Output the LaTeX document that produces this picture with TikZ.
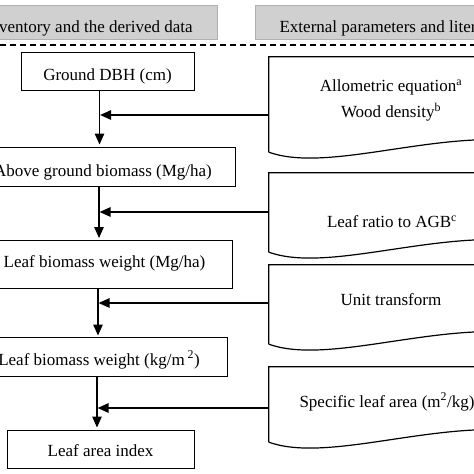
\documentclass[tikz,border=0pt]{standalone}
\usepackage{fontspec}
\setmainfont{Liberation Serif}
\usetikzlibrary{arrows.meta,calc}
\definecolor{hdrfill}{HTML}{D0D0D0}
\definecolor{hdrline}{HTML}{B0B0B0}
\begin{document}
\begin{tikzpicture}[x=1pt,y=-1pt,
  every node/.style={font=\fontsize{17}{20}\selectfont},
  box/.style={draw, line width=1pt, inner sep=0pt},
  hdr/.style={draw=hdrline, fill=hdrfill, line width=0.8pt, inner sep=0pt, text height=23.5pt, text depth=3pt},
  frame/.style={inner sep=0pt},
  doctext/.style={inner sep=0pt, anchor=base},
  docline/.style={line width=1.2pt, line join=miter},
  arr/.style={line width=1.3pt, -{Triangle[length=11pt,width=9.5pt]}},
  sep/.style={line width=1.3pt, dash pattern=on 6pt off 4pt}]
\useasboundingbox (0,0) rectangle (474,474);
\fill[white] (0,0) rectangle (474,474);

% headers
\node[hdr, minimum width=257.5pt, minimum height=34.5pt] (hl) at (88.75,22.25) {Inventory and the derived data};
\node[hdr, minimum width=280pt, minimum height=34.5pt] (hr) at (395,22.25) {External parameters and literature};
\draw[sep] (0,45) -- (474,45);

% left column
\node[box, minimum width=173pt, minimum height=38pt, text height=21pt, text depth=3pt] (dbh) at (107.5,71) {Ground DBH (cm)};
\node[box, minimum width=264pt, minimum height=39pt, text height=22pt, text depth=3pt] (agb) at (103,166.5) {Above ground biomass (Mg/ha)};
\node[box, minimum width=255pt, minimum height=48pt, text height=10pt, text depth=3pt] (lbm) at (104.5,264) {Leaf biomass weight (Mg/ha)};
\node[box, minimum width=256pt, minimum height=39pt, text height=20pt, text depth=3pt] (lbk) at (99,356.5) {Leaf biomass weight (kg/m\,\textsuperscript{2})};
\node[box, minimum width=187pt, minimum height=38pt, text height=18.4pt, text depth=3pt] (lai) at (100.5,449) {Leaf area index};

% document shapes
\node[frame, minimum width=242pt, minimum height=95pt] (doc1) at (390,104.5) {};
\node[frame, minimum width=242pt, minimum height=79pt] (doc2) at (390,212.5) {};
\node[frame, minimum width=242pt, minimum height=79pt] (doc3) at (390,304.5) {};
\node[frame, minimum width=242pt, minimum height=75pt] (doc4) at (390,404.5) {};
\foreach \dc in {doc1,doc2,doc3,doc4}
  \draw[docline] (\dc.south west) -- (\dc.north west) -- (\dc.north east) -- ($(\dc.south east)+(0,-12)$)
    .. controls ($(\dc.south west)+(156,-18)$) and ($(\dc.south west)+(56,20)$) .. (\dc.south west);

\node[inner sep=0pt, align=center, font=\fontsize{17}{26.3}\selectfont] (t1) at (391,100.5) {Allometric equation\textsuperscript{a}\\Wood density\textsuperscript{b}};
\node[doctext] (t2) at (392,227.5) {Leaf ratio to AGB\textsuperscript{c}};
\node[doctext] (t3) at (391,305.3) {Unit transform};
\node[doctext] (t4) at (387,407) {Specific leaf area (m\textsuperscript{2}/kg)};

% junctions
\coordinate (j1) at (99.5,115);
\coordinate (j2) at (99,212);
\coordinate (j3) at (98,303);
\coordinate (j4) at (97,408);

\draw[arr, shorten >=2pt] (dbh.south -| j1) -- (agb.north -| j1);
\draw[arr, shorten >=1.5pt] (agb.south -| j2) -- (lbm.north -| j2);
\draw[arr, shorten >=1pt] (lbm.south -| j3) -- (lbk.north -| j3);
\draw[arr, shorten >=2pt] (lbk.south -| j4) -- (lai.north -| j4);

\draw[arr] (doc1.west |- j1) -- ([xshift=0.6pt]j1);
\draw[arr] (doc2.west |- j2) -- ([xshift=0.6pt]j2);
\draw[arr] (doc3.west |- j3) -- ([xshift=0.6pt]j3);
\draw[arr] (doc4.west |- j4) -- ([xshift=0.6pt]j4);
\end{tikzpicture}
\end{document}
